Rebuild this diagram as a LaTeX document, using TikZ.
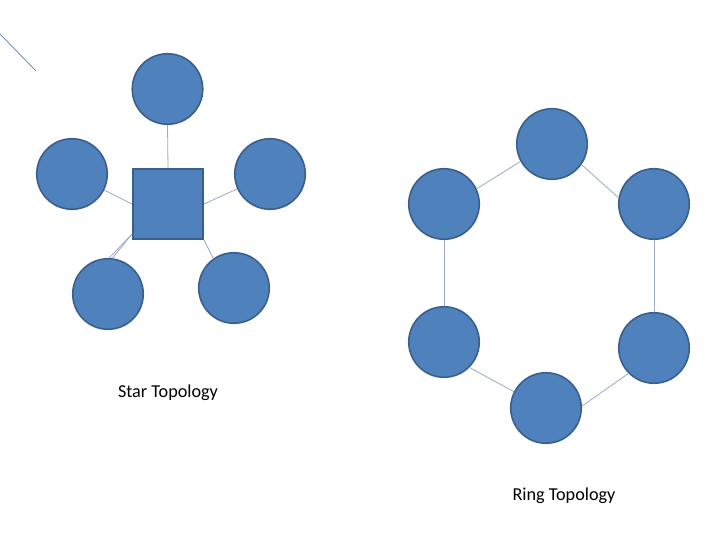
\documentclass[tikz,border=0pt]{standalone}
\usepackage{fontspec}
\setmainfont{Carlito}
\definecolor{nodefill}{HTML}{4F81BD}
\definecolor{nodeedge}{HTML}{3A5F8D}
\definecolor{linkcol}{HTML}{9AAAC2}
\definecolor{diagcol}{HTML}{5A7FB5}
\begin{document}
\begin{tikzpicture}[x=1pt,y=-1pt,
  host/.style={circle,fill=nodefill,draw=nodeedge,line width=1.6pt,minimum size=70.5pt,inner sep=0pt},
  hub/.style={rectangle,fill=nodefill,draw=nodeedge,line width=1.6pt,minimum size=70.5pt,inner sep=0pt},
  link/.style={draw=linkcol,line width=0.8pt},
  caption/.style={font=\fontsize{18.2}{21}\selectfont,inner sep=0pt,text=black}]
\useasboundingbox[fill=white] (0,0) rectangle (720,540);
% stray line
\coordinate (d1) at (0,34);
\coordinate (d2) at (36,71);
\draw[diagcol,line width=0.7pt] (d1) -- (d2);
% star
\node[hub] (sq) at (168,204) {};
\node[host] (st) at (167.5,89) {};
\node[host] (sl) at (72,174) {};
\node[host] (sr) at (270,174) {};
\node[host] (sbl) at (108,294) {};
\node[host] (sbr) at (234,288) {};
\coordinate (sqbl) at ([yshift=6pt]sq.south west);
\path[link] (st.south) -- (sq.north);
\path[link] (sl) -- (sq.west);
\path[link] (sr) -- (sq.east);
\path[link] (sqbl) -- (sbl.88);
\path[link] (sqbl) -- (sbl.83);
\path[link] (sbr.125) -- (sq.south east);
\node[caption] (startxt) at (168,393) {Star Topology};
% ring
\node[host] (rt) at (552,144) {};
\node[host] (rul) at (444,204) {};
\node[host] (rur) at (654,204) {};
\node[host] (rll) at (444,342) {};
\node[host] (rlr) at (654,348) {};
\node[host] (rb) at (546,408) {};
\path[link] (rt.209) -- (rul.25);
\path[link] (rt.-35) -- (rur.170);
\path[link] (rul.south) -- (rll.north);
\path[link] (rur.south) -- (rlr.north);
\path[link] (rll.-45) -- (rb.153);
\path[link] (rb.3) -- (rlr.225);
\node[caption] (ringtxt) at (564,496) {Ring Topology};
\end{tikzpicture}
\end{document}
